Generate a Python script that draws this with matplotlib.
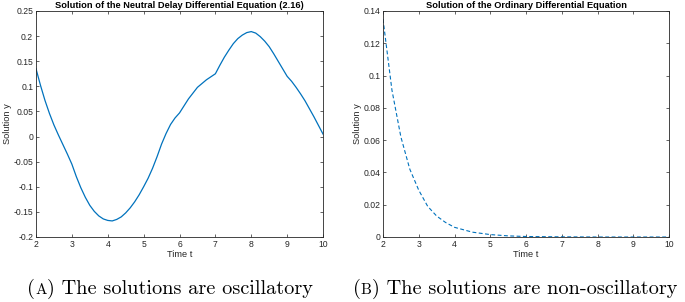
import matplotlib.pyplot as plt
from matplotlib.offsetbox import TextArea, HPacker, AnchoredOffsetbox

t_ndde = [2, 2.125, 2.25, 2.375, 2.5, 2.625, 2.75, 2.875, 3,
          3.125, 3.25, 3.375, 3.5, 3.625, 3.75, 3.875, 4,
          4.125, 4.25, 4.375, 4.5, 4.625, 4.75, 4.875, 5,
          5.125, 5.25, 5.375, 5.5, 5.625, 5.75, 5.875, 6,
          6.25, 6.5, 6.75, 7, 7.125, 7.25, 7.375, 7.5, 7.625, 7.75, 7.875, 8,
          8.125, 8.25, 8.375, 8.5, 8.625, 8.75, 8.875, 9,
          9.125, 9.25, 9.375, 9.5, 9.625, 9.75, 9.875, 10]
y_ndde = [0.135, 0.102, 0.072, 0.046, 0.023, 0.003, -0.016, -0.035, -0.055,
          -0.08, -0.102, -0.121, -0.137, -0.149, -0.158, -0.164, -0.167,
          -0.168, -0.165, -0.16, -0.152, -0.142, -0.13, -0.116, -0.1,
          -0.083, -0.063, -0.04, -0.015, 0.006, 0.024, 0.037, 0.047,
          0.075, 0.098, 0.113, 0.125, 0.142, 0.158, 0.172, 0.185, 0.195, 0.202, 0.207, 0.209,
          0.206, 0.199, 0.19, 0.179, 0.165, 0.15, 0.135, 0.12,
          0.11, 0.098, 0.085, 0.071, 0.055, 0.039, 0.022, 0.005]

t_ode = [2, 2.25, 2.5, 2.75, 3, 3.25, 3.5, 3.75, 4, 4.5, 5, 5.5, 6, 7, 8, 9, 10]
y_ode = [0.135, 0.091, 0.062, 0.042, 0.029, 0.019, 0.013, 0.009, 0.006,
         0.003, 0.0015, 0.0007, 0.0003, 0.0001, 0.0, 0.0, 0.0]

ticks_a = [-0.2, -0.15, -0.1, -0.05, 0, 0.05, 0.1, 0.15, 0.2, 0.25]
labels_a = ['-0.2', '-0.15', '-0.1', '-0.05', '0', '0.05', '0.1', '0.15', '0.2', '0.25']
ticks_b = [0, 0.02, 0.04, 0.06, 0.08, 0.1, 0.12, 0.14]
labels_b = ['0', '0.02', '0.04', '0.06', '0.08', '0.1', '0.12', '0.14']

plt.rcParams['font.family'] = ['Liberation Sans', 'DejaVu Sans']
blue = '#0072BD'
fs = 6.2

fig = plt.figure(figsize=(6.85, 3.02), dpi=100)
W, H = 685, 302


def make_axes(x0, x1, y0, y1):
    return fig.add_axes([x0 / W, 1 - y1 / H, (x1 - x0) / W, (y1 - y0) / H])


def style(ax, ticks, labels, ylim, title):
    ax.set_xlim(2, 10)
    ax.set_ylim(*ylim)
    ax.set_xticks(range(2, 11))
    ax.set_yticks(ticks)
    ax.set_yticklabels(labels)
    ax.tick_params(direction='in', length=2.5, width=0.5, labelsize=fs,
                   top=True, right=True, colors='#262626', pad=2)
    for s in ax.spines.values():
        s.set_linewidth(0.6)
        s.set_color('#262626')
    ax.set_title(title, fontsize=fs + 0.5, fontweight='bold', pad=2)
    ax.set_xlabel('Time t', fontsize=fs + 0.5, labelpad=1, color='#262626')
    ax.set_ylabel('Solution y', fontsize=fs + 0.5, labelpad=1, color='#262626')


ax1 = make_axes(36, 323, 11, 237)
ax1.plot(t_ndde, y_ndde, color=blue, lw=0.9)
style(ax1, ticks_a, labels_a, (-0.2, 0.25),
      'Solution of the Neutral Delay Differential Equation (2.16)')

ax2 = make_axes(383, 669, 11, 237)
ax2.plot(t_ode, y_ode, color=blue, lw=0.8, linestyle=(0, (3.5, 2.2)))
style(ax2, ticks_b, labels_b, (0, 0.14),
      'Solution of the Ordinary Differential Equation')


def caption(letter, rest, xc):
    big = dict(size=14.6, family='cmr10')
    small = dict(size=11, family='cmr10')
    box = HPacker(children=[TextArea('(', textprops=big),
                            TextArea(letter, textprops=small),
                            TextArea(') ' + rest, textprops=big)],
                  align='baseline', pad=0, sep=0)
    anc = AnchoredOffsetbox(loc='center', child=box, frameon=False,
                            bbox_to_anchor=(xc / W, 1 - 289 / H),
                            bbox_transform=fig.transFigure, pad=0, borderpad=0)
    fig.add_artist(anc)


caption('A', 'The solutions are oscillatory', 170)
caption('B', 'The solutions are non-oscillatory', 515)

fig.savefig('out.png', dpi=100)
